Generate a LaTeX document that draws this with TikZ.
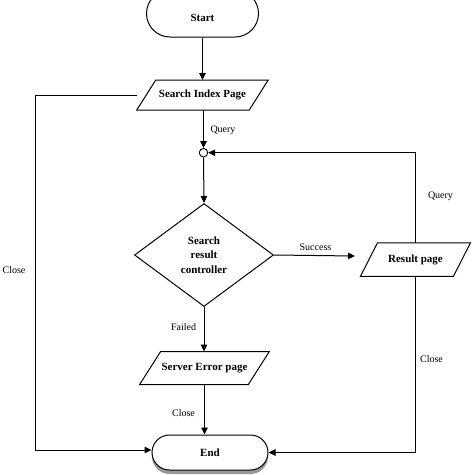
\documentclass[tikz,border=0pt]{standalone}
\usepackage{fontspec}
\setmainfont{Liberation Serif}
\usetikzlibrary{shapes.misc,shapes.geometric,arrows.meta,shadows}
\begin{document}
\begin{tikzpicture}[x=1pt,y=-1pt,
  line width=1pt,
  nodetext/.style={font=\fontsize{11}{14.5}\selectfont\bfseries, align=center},
  lbl/.style={font=\fontsize{10}{12}\selectfont, inner sep=0pt},
  terminal/.style={rounded rectangle, draw, nodetext, inner sep=0pt},
  paratext/.style={rectangle, draw=none, nodetext, inner sep=0pt},
  decision/.style={diamond, draw, nodetext, inner sep=0pt, aspect=1.35, minimum width=139pt, minimum height=103pt},
  joint/.style={circle, draw, fill=white, line width=0.9pt, inner sep=0pt, minimum size=8.5pt},
  arr/.style={-{Triangle[length=7pt,width=6.5pt]}}]
\useasboundingbox (0,0) rectangle (474,475);

% nodes
\node[terminal, minimum width=112pt, minimum height=47pt] (start) at (202.5,13.5) {};
\node[nodetext] (starttext) at (202.5,17.5) {Start};
\node[paratext, minimum width=111.5pt, minimum height=29pt] (sip) at (202.5,95) {Search Index Page};
\node[joint] (circ) at (203.5,152.7) {};
\node[decision] (dia) at (204,255) {Search\\result\\controller};
\node[paratext, minimum width=92pt, minimum height=32.5pt] (rp) at (415.5,259.5) {Result page};
\node[paratext, minimum width=107.7pt, minimum height=32pt] (sep) at (204.5,368) {Server Error page};
\node[terminal, minimum width=116pt, minimum height=35pt, fill=white,
      drop shadow={shadow xshift=0pt, shadow yshift=-4pt, fill=gray!80, opacity=1}] (end) at (210,452.5) {End};

% parallelogram outlines
\draw ([xshift=-9.5pt]sip.south west) -- ([xshift=9.5pt]sip.north west) -- ([xshift=9.5pt]sip.north east) -- ([xshift=-9.5pt]sip.south east) -- cycle;
\draw ([xshift=-8.5pt]rp.south west) -- ([xshift=8.5pt]rp.north west) -- ([xshift=8.5pt]rp.north east) -- ([xshift=-8.5pt]rp.south east) -- cycle;
\draw ([xshift=-10.5pt]sep.south west) -- ([xshift=10.5pt]sep.north west) -- ([xshift=10.5pt]sep.north east) -- ([xshift=-10.5pt]sep.south east) -- cycle;

% free ends / corners
\coordinate (succEnd) at (355,256);
\coordinate (leftTop) at (35.5,95);

% connectors
\draw[arr] (start.south -| sip.north) -- (sip.north);
\draw[arr] (sip.south -| circ) -- (circ.north);
\draw[arr] (circ.south) -- (dia.north);
\draw[arr] (dia.east) -- (succEnd);
\draw[arr] (rp.north) |- (circ.east);
\draw[arr] (rp.south) |- (end.east);
\draw[arr] (dia.south) -- (sep.north -| dia.south);
\draw[arr] (sep.south) -- (sep.south |- end.north);
\draw[arr] ([xshift=-9.5pt]sip.west) -- (leftTop) |- ([yshift=2.5pt]end.west);

% labels
\node[lbl] (lq1) at (223,130) {Query};
\node[lbl] (lq2) at (440.5,196) {Query};
\node[lbl] (lsucc) at (315.5,247) {Success};
\node[lbl] (lfail) at (183.5,327) {Failed};
\node[lbl] (lclose1) at (183.5,413) {Close};
\node[lbl] (lclose2) at (431.5,359) {Close};
\node[lbl] (lclose3) at (14,270) {Close};
\end{tikzpicture}
\end{document}
